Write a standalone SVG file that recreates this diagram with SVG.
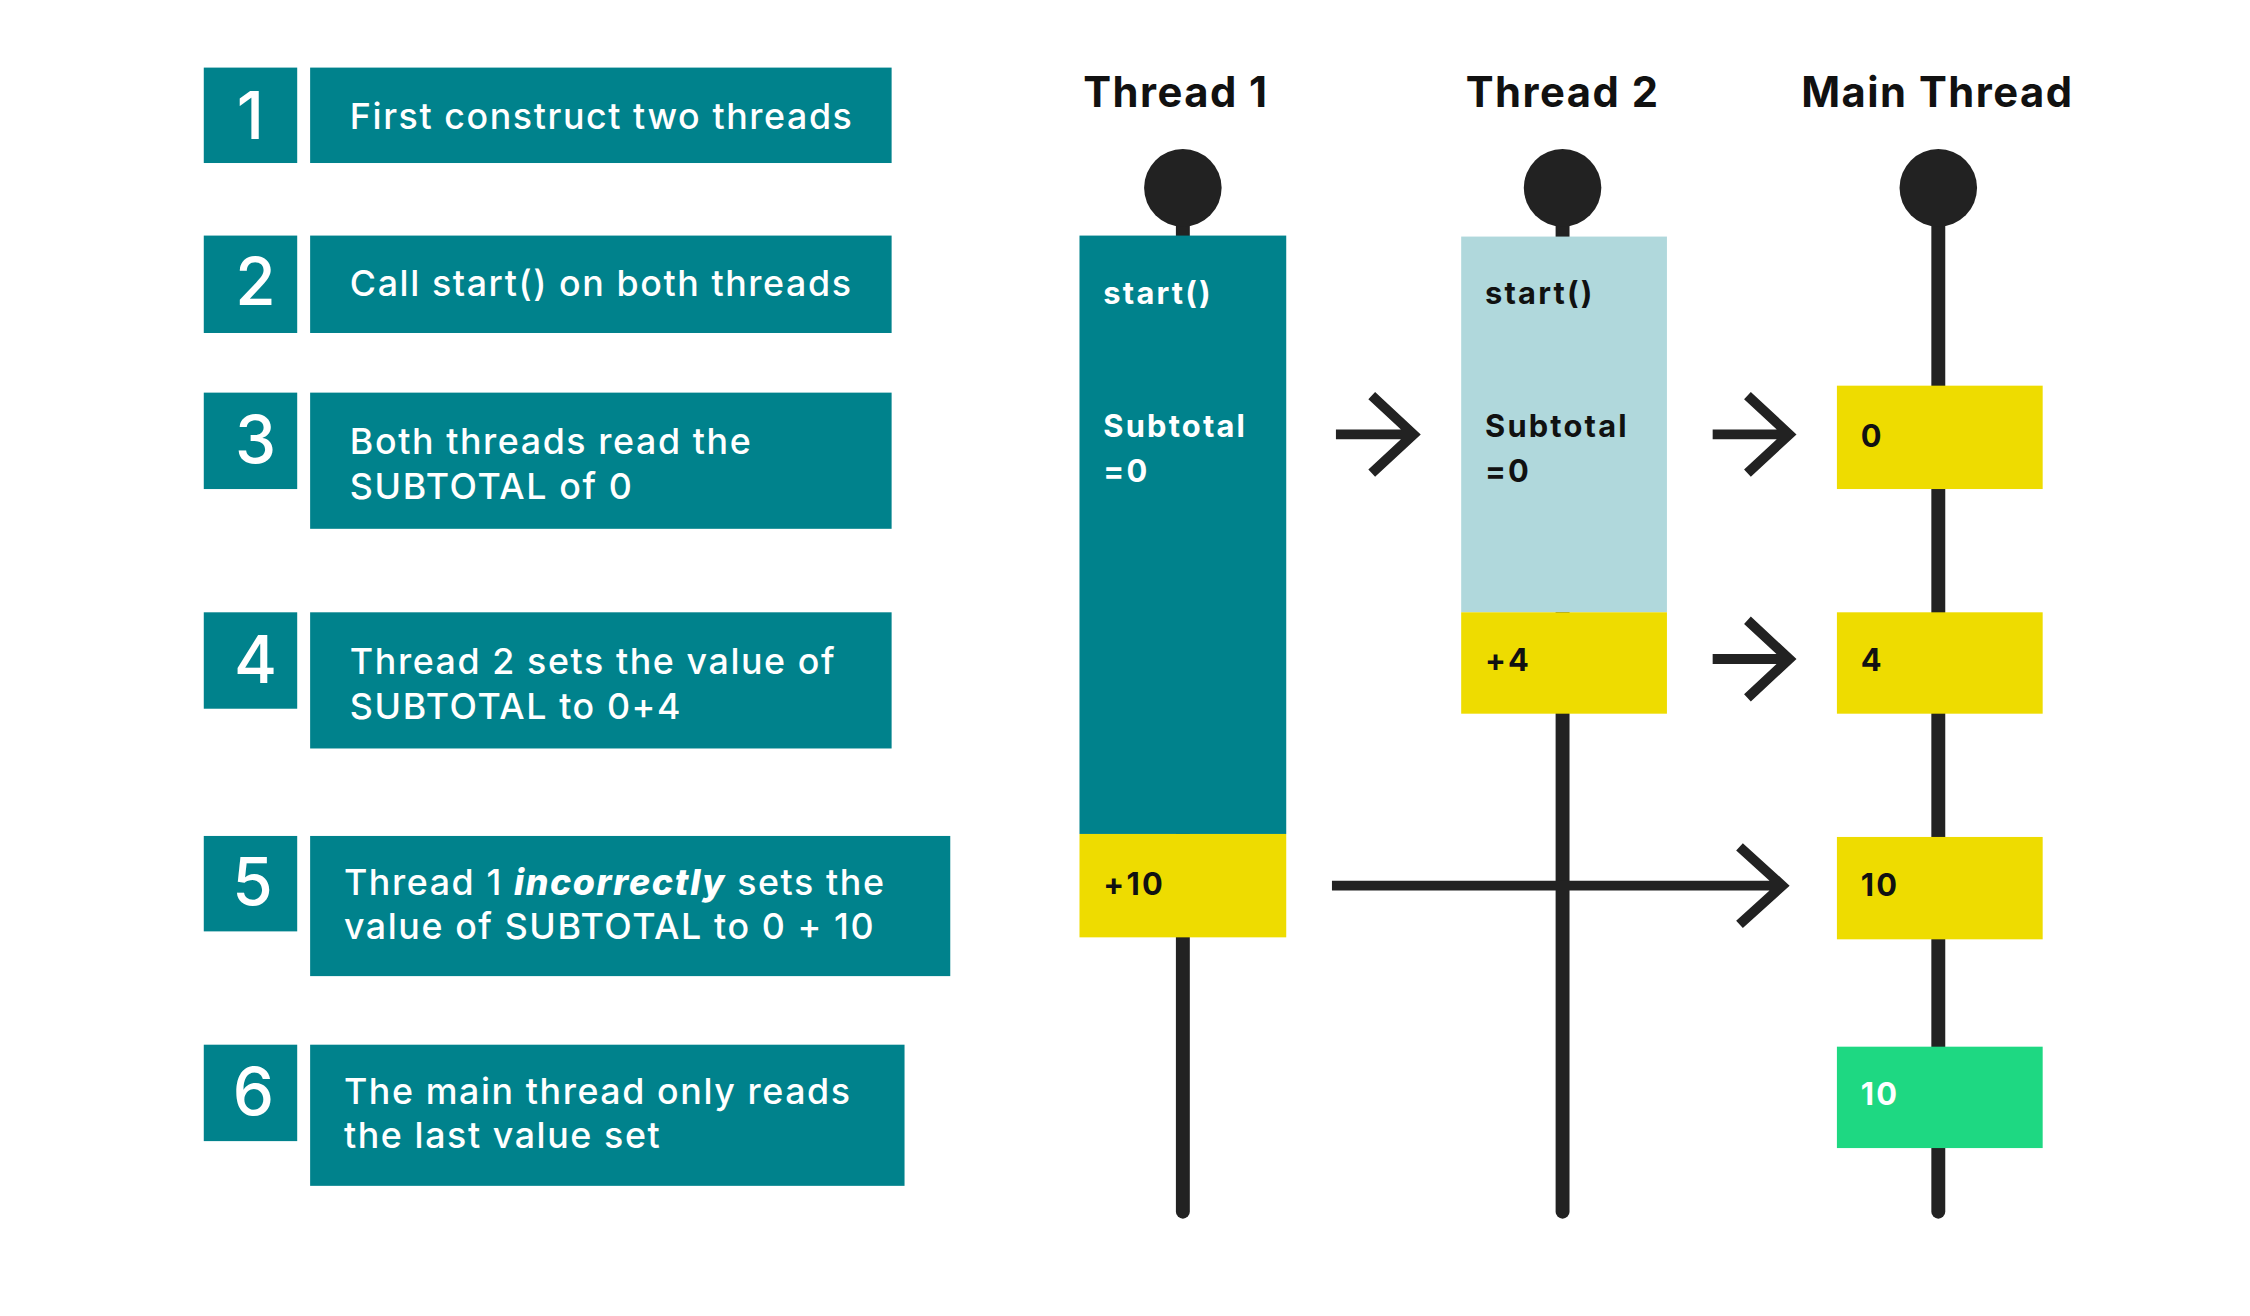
<svg xmlns="http://www.w3.org/2000/svg" width="2250" height="1316" viewBox="0 0 2250 1316">
<style>
.teal{fill:#00828C}.yel{fill:#EEDC00}.lb{fill:#B0D8DC}.grn{fill:#1ED882}
.num{font-family:Inter,"Liberation Sans",sans-serif;font-size:66px;font-weight:500;fill:#fff;text-anchor:middle}
.step{font-family:Inter,"Liberation Sans",sans-serif;font-size:36px;font-weight:500;fill:#fff;letter-spacing:1.6px}
.title{font-family:Inter,"Liberation Sans",sans-serif;font-size:42px;font-weight:700;fill:#111;text-anchor:middle;letter-spacing:1.5px}
.lbl{font-family:Inter,"Liberation Sans",sans-serif;font-size:31px;font-weight:700;fill:#111;letter-spacing:2.2px}
.w{fill:#fff}
.ln{stroke:#222;stroke-width:14;stroke-linecap:round;fill:none}
.ar{stroke:#222;stroke-width:10;fill:none}
</style>
<g transform="scale(0.994)">
<g id="step1"><rect class="teal" x="205" y="68" width="94" height="96"/><rect class="teal" x="312" y="68" width="585" height="96"/><text class="num" x="252" y="140">1</text><text class="step" x="352" y="130">First construct two threads</text></g>
<g id="step2"><rect class="teal" x="205" y="237" width="94" height="98"/><rect class="teal" x="312" y="237" width="585" height="98"/><text class="num" x="257" y="307">2</text><text class="step" x="352" y="298">Call start() on both threads</text></g>
<g id="step3"><rect class="teal" x="205" y="395" width="94" height="97"/><rect class="teal" x="312" y="395" width="585" height="137"/><text class="num" x="257" y="466">3</text><text class="step" x="352" y="457">Both threads read the</text><text class="step" x="352" y="502">SUBTOTAL of 0</text></g>
<g id="step4"><rect class="teal" x="205" y="616" width="94" height="97"/><rect class="teal" x="312" y="616" width="585" height="137"/><text class="num" x="257" y="687">4</text><text class="step" x="352" y="678">Thread 2 sets the value of</text><text class="step" x="352" y="723">SUBTOTAL to 0+4</text></g>
<g id="step5"><rect class="teal" x="205" y="841" width="94" height="96"/><rect class="teal" x="312" y="841" width="644" height="141"/><text class="num" x="254" y="910">5</text><text class="step" x="346" y="900">Thread 1 <tspan font-weight="800" font-style="italic">incorrectly</tspan> sets the</text><text class="step" x="346" y="945">value of SUBTOTAL to 0 + 10</text></g>
<g id="step6"><rect class="teal" x="205" y="1051" width="94" height="97"/><rect class="teal" x="312" y="1051" width="598" height="142"/><text class="num" x="255" y="1122">6</text><text class="step" x="346" y="1111">The main thread only reads</text><text class="step" x="346" y="1155">the last value set</text></g>
<g id="thread1">
<text class="title" x="1183" y="108">Thread 1</text>
<line class="ln" x1="1190" y1="189" x2="1190" y2="1219"/><circle cx="1190" cy="189" r="39" fill="#222"/>
<rect class="teal" x="1086" y="237" width="208" height="602"/><rect class="yel" x="1086" y="839" width="208" height="104"/>
<text class="lbl w" x="1110" y="306">start()</text><text class="lbl w" x="1110" y="440">Subtotal</text><text class="lbl w" x="1110" y="485">=0</text><text class="lbl" x="1110" y="900">+10</text>
</g>
<g id="thread2">
<text class="title" x="1572" y="108">Thread 2</text>
<line class="ln" x1="1572" y1="189" x2="1572" y2="1219"/><circle cx="1572" cy="189" r="39" fill="#222"/>
<rect class="lb" x="1470" y="238" width="207" height="378"/><rect class="yel" x="1470" y="616" width="207" height="102"/>
<text class="lbl" x="1494" y="306">start()</text><text class="lbl" x="1494" y="440">Subtotal</text><text class="lbl" x="1494" y="485">=0</text><text class="lbl" x="1494" y="675">+4</text>
</g>
<g id="main">
<text class="title" x="1949" y="108">Main Thread</text>
<line class="ln" x1="1950" y1="189" x2="1950" y2="1219"/><circle cx="1950" cy="189" r="39" fill="#222"/>
<rect class="yel" x="1848" y="388" width="207" height="104"/><rect class="yel" x="1848" y="616" width="207" height="102"/>
<rect class="yel" x="1848" y="842" width="207" height="103"/><rect class="grn" x="1848" y="1053" width="207" height="102"/>
<text class="lbl" x="1872" y="450">0</text><text class="lbl" x="1872" y="675">4</text><text class="lbl" x="1872" y="901">10</text><text class="lbl w" x="1872" y="1112">10</text>
</g>
<g id="connectors">
<path class="ar" d="M1344 437H1422M1380 398L1422 437L1380 476"/>
<path class="ar" d="M1723 437H1800M1758 398L1800 437L1758 476"/>
<path class="ar" d="M1723 663H1800M1758 624L1800 663L1758 702"/>
<path class="ar" d="M1340 891H1793M1750 852L1793 891L1750 930"/>
</g>
</g>
</svg>
